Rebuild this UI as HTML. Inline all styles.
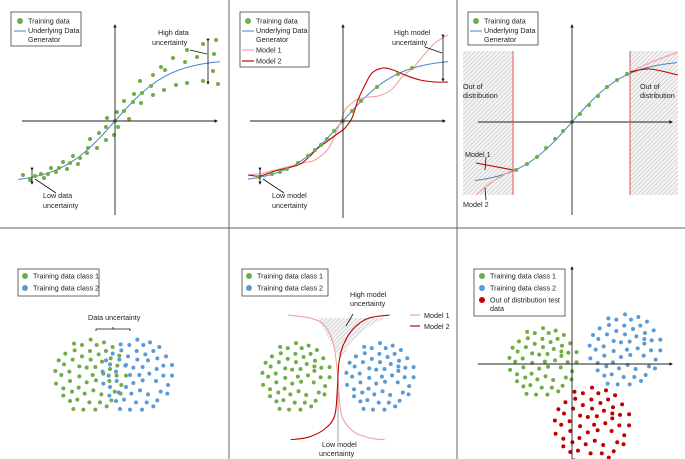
<!DOCTYPE html>
<html><head><meta charset="utf-8"><style>
html,body{margin:0;padding:0;background:#fff}
svg{display:block}
text{font-family:"Liberation Sans",sans-serif;font-size:7.2px;fill:#222}
</style></head><body>
<svg id="fig" width="685" height="459" viewBox="0 0 685 459" xmlns="http://www.w3.org/2000/svg">
<defs>
<pattern id="hatch" width="3" height="3" patternUnits="userSpaceOnUse" patternTransform="rotate(45)">
<rect width="3" height="3" fill="#f4f4f4"/><line x1="0" y1="0" x2="0" y2="3" stroke="#aaa" stroke-width="0.8"/></pattern>
<marker id="ah" markerWidth="6" markerHeight="6" refX="3" refY="3" orient="auto"><path d="M0,1 L4,3 L0,5 Z" fill="#111"/></marker>
</defs>
<line x1="0" y1="228" x2="685" y2="228" stroke="#666" stroke-width="1"/>
<line x1="229" y1="0" x2="229" y2="459" stroke="#666" stroke-width="1"/>
<line x1="457" y1="0" x2="457" y2="459" stroke="#666" stroke-width="1"/>

<rect x="463" y="51" width="50" height="144" fill="url(#hatch)"/>
<rect x="630" y="51" width="48" height="144" fill="url(#hatch)"/>

<path d="M318,318 L388,318 Q360,325 340,360 Z" fill="url(#hatch)"/>

<g id="marks"></g>

<g stroke="#222" stroke-width="0.9" fill="none">
<line x1="115" y1="215" x2="115" y2="25" marker-end="url(#ah)"/>
<line x1="22" y1="121" x2="217" y2="121" marker-end="url(#ah)"/>
<line x1="343" y1="218" x2="343" y2="25" marker-end="url(#ah)"/>
<line x1="250" y1="121" x2="445" y2="121" marker-end="url(#ah)"/>
<line x1="572" y1="215" x2="572" y2="25" marker-end="url(#ah)"/>
<line x1="478" y1="122" x2="672" y2="122" marker-end="url(#ah)"/>
<line x1="572" y1="459" x2="572" y2="267" marker-end="url(#ah)"/>
<line x1="478" y1="364" x2="672" y2="364" marker-end="url(#ah)"/>
<line x1="338" y1="390" x2="338" y2="442" stroke="#999"/>
</g>

<line x1="513" y1="51" x2="513" y2="195" stroke="#e05050" stroke-width="1"/>
<line x1="630" y1="51" x2="630" y2="195" stroke="#e05050" stroke-width="1"/>

<g stroke="#111" stroke-width="0.8" fill="none">
<line x1="208" y1="41" x2="208" y2="84" marker-start="url(#ah)" marker-end="url(#ah)"/>
<line x1="190" y1="50" x2="207" y2="54"/>
<line x1="32" y1="170" x2="32" y2="184" marker-start="url(#ah)" marker-end="url(#ah)"/>
<line x1="35" y1="179" x2="56" y2="193"/>
<line x1="443" y1="37" x2="443" y2="81" marker-start="url(#ah)" marker-end="url(#ah)"/>
<line x1="425" y1="47" x2="442" y2="53"/>
<line x1="260" y1="170" x2="260" y2="184" marker-start="url(#ah)" marker-end="url(#ah)"/>
<line x1="263" y1="179" x2="284" y2="193"/>
<line x1="486" y1="157" x2="485" y2="170"/>
<line x1="485" y1="188" x2="486" y2="200"/>
<path d="M96,331 V329 H130 V331 M113,329 V327"/>
<line x1="353" y1="314" x2="346" y2="326"/>
</g>
<g>
<text x="158" y="35">High data</text><text x="152" y="45">uncertainty</text>
<text x="43" y="198">Low data</text><text x="43" y="208">uncertainty</text>
<text x="394" y="35">High model</text><text x="392" y="45">uncertainty</text>
<text x="272" y="198">Low model</text><text x="272" y="208">uncertainty</text>
<text x="463" y="89">Out of</text><text x="463" y="98">distribution</text>
<text x="640" y="89">Out of</text><text x="640" y="98">distribution</text>
<text x="465" y="157">Model 1</text><text x="463" y="207">Model 2</text>
<text x="88" y="320">Data uncertainty</text>
<text x="350" y="297">High model</text><text x="350" y="306">uncertainty</text>
<text x="322" y="447">Low model</text><text x="319" y="456">uncertainty</text>
<line x1="410" y1="315" x2="420" y2="315" stroke="#f4a0a0" stroke-width="1.2"/><text x="424" y="318">Model 1</text>
<line x1="410" y1="326" x2="420" y2="326" stroke="#c00000" stroke-width="1.2"/><text x="424" y="329">Model 2</text>
</g>

<g>
<rect x="11" y="12" width="70" height="34" fill="#fff" stroke="#444" stroke-width="0.8"/>
<circle cx="20" cy="21" r="3" fill="#70ad47"/><text x="28" y="23.5">Training data</text>
<line x1="14" y1="31" x2="26" y2="31" stroke="#4a86c5" stroke-width="1"/><text x="28" y="33">Underlying Data</text><text x="28" y="42">Generator</text>
</g>
<g>
<rect x="240" y="12" width="69" height="55" fill="#fff" stroke="#444" stroke-width="0.8"/>
<circle cx="248" cy="21" r="3" fill="#70ad47"/><text x="256" y="23.5">Training data</text>
<line x1="242" y1="31" x2="254" y2="31" stroke="#4a86c5" stroke-width="1"/><text x="256" y="33">Underlying Data</text><text x="256" y="42">Generator</text>
<line x1="242" y1="50" x2="254" y2="50" stroke="#f4a0a0" stroke-width="1.2"/><text x="256" y="52.5">Model 1</text>
<line x1="242" y1="61" x2="254" y2="61" stroke="#c00000" stroke-width="1.2"/><text x="256" y="63.5">Model 2</text>
</g>
<g>
<rect x="468" y="12" width="70" height="33" fill="#fff" stroke="#444" stroke-width="0.8"/>
<circle cx="476" cy="21" r="3" fill="#70ad47"/><text x="484" y="23.5">Training data</text>
<line x1="470" y1="31" x2="482" y2="31" stroke="#4a86c5" stroke-width="1"/><text x="484" y="33">Underlying Data</text><text x="484" y="42">Generator</text>
</g>
<g>
<rect x="18" y="269" width="81" height="27" fill="#fff" stroke="#444" stroke-width="0.8"/>
<circle cx="25" cy="276" r="3" fill="#70ad47"/><text x="33" y="278.5">Training data class 1</text>
<circle cx="25" cy="288" r="3" fill="#5b9bd5"/><text x="33" y="290.5">Training data class 2</text>
</g>
<g>
<rect x="242" y="269" width="86" height="27" fill="#fff" stroke="#444" stroke-width="0.8"/>
<circle cx="249" cy="276" r="3" fill="#70ad47"/><text x="257" y="278.5">Training data class 1</text>
<circle cx="249" cy="288" r="3" fill="#5b9bd5"/><text x="257" y="290.5">Training data class 2</text>
</g>
<g>
<rect x="474" y="269" width="91" height="47" fill="#fff" stroke="#444" stroke-width="0.8"/>
<circle cx="482" cy="276" r="3" fill="#70ad47"/><text x="490" y="278.5">Training data class 1</text>
<circle cx="482" cy="288" r="3" fill="#5b9bd5"/><text x="490" y="290.5">Training data class 2</text>
<circle cx="482" cy="300" r="3" fill="#c00000"/><text x="490" y="302.5">Out of distribution test</text><text x="490" y="311">data</text>
</g>
</svg>
<script>
const p1X=[-92,-85,-80,-74,-71,-67,-64,-59,-56,-52,-48,-45,-42,-37,-35,-28,-27,-25,-18,-16,-9,-9,-8,-1,0,2,3,9,9,14,18,19,25,26,27,36,38,38,49,46,50,58,61,70,72,72,82,88,88,98,99,101,103];
const p1Y=[-54,-59,-55,-53,-57,-53,-47,-51,-47,-41,-48,-42,-35,-43,-37,-32,-27,-18,-27,-12,-19,-6,3,-14,0,9,-6,10,20,2,19,27,40,18,28,35,46,26,31,54,51,63,36,59,71,38,64,77,40,50,67,81,37];
const p2X=[-84,-71,-63,-56,-45,-35,-28,-22,-16,-9,0,9,18,34,55,69];
const p2Y=[-56,-53,-51,-48,-42,-35,-29,-24,-18,-10,0,10,20,34,47,53];
const p3X=[-56,-45,-35,-26,-17,-9,0,8,17,26,35,45,55];
const p3Y=[-48,-42,-35,-26,-17,-9,0,8,17,26,35,42,48];
const m2P2X=[-95,-83,-68,-45,-35,-25,-18,-10,-3,2,9,15,22,29,40,50,62,77,92,105];
const m2P2Y=[-54,-55,-50,-44,-37,-27,-22,-16,-11,-7,3,21,36,48,53,51,46,41,39,39];
const m1P2X=[-95,-80,-60,-40,-28,-15,-8,-2,2,8,15,25,35,48,60,70,80,92,105];
const m1P2Y=[-54,-52,-47,-42,-39,-28,-14,0,11,17,22,24,25,31,45,53,65,78,86];
const m1P3X=[-96,-80,-59,58,80,106];
const m1P3Y=[-73,-60,-48,50,60,70];
const m2P3X=[-96,-80,-59,58,78,106];
const m2P3Y=[-41,-44,-48,50,53,47];
const c4GreenX=[272,312,222,246,290,338,224,270,318,196,246,296,358,218,176,272,332,306,192,238,260,286,330,352,378,166,208,330,184,238,278,350,378,310,210,168,260,288,328,364,236,190,216,254,280,304,344,362,190,210,232,268,300,334,320,220,250,286];
const c4GreenY=[332,340,344,348,348,354,364,366,366,374,382,376,380,392,394,392,388,398,406,412,416,414,406,410,408,426,428,420,438,442,438,440,440,434,456,464,460,454,456,468,476,478,488,494,484,496,488,494,500,516,512,520,520,514,532,540,542,542];
const c4BlueX=[412,450,388,430,478,362,364,410,460,338,384,436,498,472,318,358,412,444,330,376,400,428,470,490,516,308,348,390,418,448,490,516,326,310,350,378,400,428,468,504,330,356,394,420,444,482,502,328,348,372,408,440,472,460,360,390,426];
const c4BlueY=[332,340,348,348,354,346,364,366,366,374,382,376,382,388,394,392,392,394,406,410,416,414,420,410,408,428,428,438,438,434,440,440,440,464,456,474,462,454,456,468,474,490,494,484,496,488,494,500,516,512,520,520,514,532,540,542,542];
const m1P5X=[180,250,290,315,325,330,335,345,380,430,470];
const m1P5Y=[258,268,290,340,400,450,520,570,610,628,632];
const m2P5X=[485,420,375,345,333,330,328,320,290,240,188];
const m2P5Y=[258,268,300,350,400,440,480,560,600,625,632];

const sx=(ox,v)=>ox+v, sy=(oy,v)=>oy-v;
const z=(o,v)=>o+v/3;
const NS='http://www.w3.org/2000/svg';
const g=document.getElementById('marks');
function dot(x,y,c,name){const e=document.createElementNS(NS,'circle');e.setAttribute('cx',x);e.setAttribute('cy',y);e.setAttribute('r',2);e.setAttribute('fill',c);


g.appendChild(e);}
function smooth(pts){let d='M'+pts[0][0]+','+pts[0][1];for(let i=0;i<pts.length-1;i++){const p0=pts[i-1]||pts[i],p1=pts[i],p2=pts[i+1],p3=pts[i+2]||p2;
d+=' C'+(p1[0]+(p2[0]-p0[0])/6)+','+(p1[1]+(p2[1]-p0[1])/6)+' '+(p2[0]-(p3[0]-p1[0])/6)+','+(p2[1]-(p3[1]-p1[1])/6)+' '+p2[0]+','+p2[1];}return d;}
function path(d,c,w,name){const e=document.createElementNS(NS,'path');e.setAttribute('d',d);e.setAttribute('stroke',c);e.setAttribute('stroke-width',w);e.setAttribute('fill','none');


g.appendChild(e);}
function gen(ox,oy,x0,x1){const p=[];for(let x=x0;x<=x1;x+=2)p.push([ox+x,oy-62*Math.tanh(x/55)]);return p;}
path(smooth(gen(115,121,-97,105)),'#4a86c5',1,'generator-curve-1');
path(smooth(gen(343,121,-95,105)),'#4a86c5',1,'generator-curve-2');
path(smooth(gen(572,122,-97,106)),'#4a86c5',1,'generator-curve-3');
path(smooth(m1P2X.map((v,i)=>[sx(343,v),sy(121,m1P2Y[i])])),'#f4a0a0',1.1,'model-1-curve');
path(smooth(m2P2X.map((v,i)=>[sx(343,v),sy(121,m2P2Y[i])])),'#c00000',1.1,'model-2-curve');
path(smooth(m1P3X.slice(0,3).map((v,i)=>[sx(572,v),sy(122,m1P3Y[i])])),'#f4a0a0',1.1,'model-1-ood-left');
path(smooth(m2P3X.slice(0,3).map((v,i)=>[sx(572,v),sy(122,m2P3Y[i])])),'#c00000',1.1,'model-2-ood-left');
path(smooth(m1P3X.slice(3).map((v,i)=>[sx(572,v),sy(122,m1P3Y[i+3])])),'#f4a0a0',1.1,'model-1-ood-right');
path(smooth(m2P3X.slice(3).map((v,i)=>[sx(572,v),sy(122,m2P3Y[i+3])])),'#c00000',1.1,'model-2-ood-right');
path(smooth(m1P5X.map((v,i)=>[z(228,v),z(229,m1P5Y[i])])),'#f4a0a0',1.1,'model-1-boundary');
path(smooth(m2P5X.map((v,i)=>[z(228,v),z(229,m2P5Y[i])])),'#c00000',1.1,'model-2-boundary');
p1X.forEach((v,i)=>dot(sx(115,v),sy(121,p1Y[i]),'#70ad47','training-point'));
p2X.forEach((v,i)=>dot(sx(343,v),sy(121,p2Y[i]),'#70ad47','training-point'));
p3X.forEach((v,i)=>dot(sx(572,v),sy(122,p3Y[i]),'#70ad47','training-point'));
c4GreenX.forEach((v,i)=>dot(z(0,v),z(229,c4GreenY[i]),'#70ad47','class-1-point'));
c4BlueX.forEach((v,i)=>dot(z(0,v),z(229,c4BlueY[i]),'#5b9bd5','class-2-point'));
function cluster(cx,cy,k,c,name){c4GreenX.forEach((v,i)=>dot(cx+(v-272)/3*k,cy+(c4GreenY[i]-436)/3*k,c,name));}
cluster(296,376,0.95,'#70ad47','class-1-point');
cluster(380,376,0.95,'#5b9bd5','class-2-point');
cluster(543,361,0.95,'#70ad47','class-1-point');
cluster(625,349,1.0,'#5b9bd5','class-2-point');
cluster(592,424,1.05,'#c00000','ood-test-point');
</script>
</body></html>
